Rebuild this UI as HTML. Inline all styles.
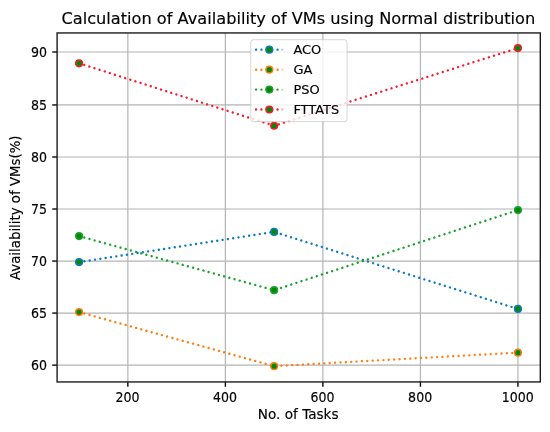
<!DOCTYPE html>
<html lang="en">
<head>
<meta charset="utf-8">
<title>Calculation of Availability of VMs using Normal distribution</title>
<style>
html,body{margin:0;padding:0;background:#fff;}
body{width:550px;height:432px;overflow:hidden;}
svg{display:block;}
svg text{font-family:"DejaVu Sans","Liberation Sans",sans-serif;fill:#000;stroke:#000;stroke-width:0.15px;}
</style>
</head>
<body>
<svg width="550" height="432" viewBox="0 0 550 432">
<rect x="0" y="0" width="550" height="432" fill="#ffffff"/>
<g stroke="#b4b4b4" stroke-width="1.2" fill="none">
<line x1="127.85" y1="32.95" x2="127.85" y2="381.95"/>
<line x1="225.38" y1="32.95" x2="225.38" y2="381.95"/>
<line x1="322.90" y1="32.95" x2="322.90" y2="381.95"/>
<line x1="420.43" y1="32.95" x2="420.43" y2="381.95"/>
<line x1="517.95" y1="32.95" x2="517.95" y2="381.95"/>
<line x1="57.1" y1="365.13" x2="540.3" y2="365.13"/>
<line x1="57.1" y1="313.09" x2="540.3" y2="313.09"/>
<line x1="57.1" y1="261.06" x2="540.3" y2="261.06"/>
<line x1="57.1" y1="209.02" x2="540.3" y2="209.02"/>
<line x1="57.1" y1="156.99" x2="540.3" y2="156.99"/>
<line x1="57.1" y1="104.95" x2="540.3" y2="104.95"/>
<line x1="57.1" y1="52.00" x2="540.3" y2="52.00"/>
</g>
<g stroke="#000" stroke-width="1.35" fill="none">
<line x1="127.85" y1="381.95" x2="127.85" y2="386.75"/>
<line x1="225.38" y1="381.95" x2="225.38" y2="386.75"/>
<line x1="322.90" y1="381.95" x2="322.90" y2="386.75"/>
<line x1="420.43" y1="381.95" x2="420.43" y2="386.75"/>
<line x1="517.95" y1="381.95" x2="517.95" y2="386.75"/>
<line x1="52.2" y1="365.13" x2="57.1" y2="365.13"/>
<line x1="52.2" y1="313.09" x2="57.1" y2="313.09"/>
<line x1="52.2" y1="261.06" x2="57.1" y2="261.06"/>
<line x1="52.2" y1="209.02" x2="57.1" y2="209.02"/>
<line x1="52.2" y1="156.99" x2="57.1" y2="156.99"/>
<line x1="52.2" y1="104.95" x2="57.1" y2="104.95"/>
<line x1="52.2" y1="52.00" x2="57.1" y2="52.00"/>
</g>
<clipPath id="ax"><rect x="57.1" y="32.95" width="483.19999999999993" height="349.0"/></clipPath>
<g clip-path="url(#ax)">
<polyline points="79.09,262.10 274.14,231.92 517.95,308.93" fill="none" stroke="#0c7cc0" stroke-width="2.4" stroke-dasharray="0.001 5.376" stroke-linecap="round"/>
<circle cx="79.09" cy="262.10" r="3.35" fill="#068806" stroke="#0c7cc0" stroke-width="1.5"/>
<circle cx="274.14" cy="231.92" r="3.35" fill="#068806" stroke="#0c7cc0" stroke-width="1.5"/>
<circle cx="517.95" cy="308.93" r="3.35" fill="#068806" stroke="#0c7cc0" stroke-width="1.5"/>
<polyline points="79.09,312.05 274.14,366.17 517.95,352.64" fill="none" stroke="#ff7f0e" stroke-width="2.4" stroke-dasharray="0.001 5.376" stroke-linecap="round"/>
<circle cx="79.09" cy="312.05" r="3.35" fill="#068806" stroke="#ff7f0e" stroke-width="1.5"/>
<circle cx="274.14" cy="366.17" r="3.35" fill="#068806" stroke="#ff7f0e" stroke-width="1.5"/>
<circle cx="517.95" cy="352.64" r="3.35" fill="#068806" stroke="#ff7f0e" stroke-width="1.5"/>
<polyline points="79.09,236.08 274.14,290.20 517.95,210.06" fill="none" stroke="#1aa32c" stroke-width="2.4" stroke-dasharray="0.001 5.376" stroke-linecap="round"/>
<circle cx="79.09" cy="236.08" r="3.35" fill="#068806" stroke="#1aa32c" stroke-width="1.5"/>
<circle cx="274.14" cy="290.20" r="3.35" fill="#068806" stroke="#1aa32c" stroke-width="1.5"/>
<circle cx="517.95" cy="210.06" r="3.35" fill="#068806" stroke="#1aa32c" stroke-width="1.5"/>
<polyline points="79.09,63.28 274.14,125.76 517.95,48.03" fill="none" stroke="#fb1a2c" stroke-width="2.4" stroke-dasharray="0.001 5.376" stroke-linecap="round"/>
<circle cx="79.09" cy="63.28" r="3.35" fill="#068806" stroke="#fb1a2c" stroke-width="1.5"/>
<circle cx="274.14" cy="125.76" r="3.35" fill="#068806" stroke="#fb1a2c" stroke-width="1.5"/>
<circle cx="517.95" cy="48.03" r="3.35" fill="#068806" stroke="#fb1a2c" stroke-width="1.5"/>
</g>
<rect x="57.1" y="32.95" width="483.19999999999993" height="349.0" fill="none" stroke="#1c1c1c" stroke-width="1.4"/>
<g font-size="12.6">
<text transform="translate(127.55 401.65) scale(1 1.065)" text-anchor="middle">200</text>
<text transform="translate(225.08 401.65) scale(1 1.065)" text-anchor="middle">400</text>
<text transform="translate(322.60 401.65) scale(1 1.065)" text-anchor="middle">600</text>
<text transform="translate(420.13 401.65) scale(1 1.065)" text-anchor="middle">800</text>
<text transform="translate(517.65 401.65) scale(1 1.065)" text-anchor="middle">1000</text>
<text transform="translate(46.90 369.93) scale(1 1.065)" text-anchor="end">60</text>
<text transform="translate(46.90 317.89) scale(1 1.065)" text-anchor="end">65</text>
<text transform="translate(46.90 265.86) scale(1 1.065)" text-anchor="end">70</text>
<text transform="translate(46.90 213.82) scale(1 1.065)" text-anchor="end">75</text>
<text transform="translate(46.90 161.79) scale(1 1.065)" text-anchor="end">80</text>
<text transform="translate(46.90 109.75) scale(1 1.065)" text-anchor="end">85</text>
<text transform="translate(46.90 56.80) scale(1 1.065)" text-anchor="end">90</text>
<text x="298.2" y="419.3" text-anchor="middle" font-size="13.6">No. of Tasks</text>
<text transform="translate(20.4 207.75) rotate(-90)" text-anchor="middle" font-size="13.33">Availability of VMs(%)</text>
</g>
<text x="298.3" y="24.0" text-anchor="middle" font-size="16.2">Calculation of Availability of VMs using Normal distribution</text>
<rect x="250.8" y="39.7" width="96.25" height="81.89999999999999" rx="2.5" ry="2.5" fill="#ffffff" fill-opacity="0.8" stroke="#cccccc" stroke-opacity="0.8" stroke-width="1"/>
<g font-size="12.95">
<line x1="256.05" y1="49.65" x2="280" y2="49.65" stroke="#0c7cc0" stroke-width="2.4" stroke-dasharray="0.001 5.376" stroke-linecap="round"/>
<circle cx="282.2" cy="49.65" r="1.2" fill="#0c7cc0" opacity="0.3"/>
<circle cx="269.3" cy="49.65" r="3.35" fill="#068806" stroke="#0c7cc0" stroke-width="1.5"/>
<text x="293.4" y="54.15">ACO</text>
<line x1="256.05" y1="69.7" x2="280" y2="69.7" stroke="#ff7f0e" stroke-width="2.4" stroke-dasharray="0.001 5.376" stroke-linecap="round"/>
<circle cx="282.2" cy="69.7" r="1.2" fill="#ff7f0e" opacity="0.3"/>
<circle cx="269.3" cy="69.7" r="3.35" fill="#068806" stroke="#ff7f0e" stroke-width="1.5"/>
<text x="293.4" y="74.20">GA</text>
<line x1="256.05" y1="89.6" x2="280" y2="89.6" stroke="#1aa32c" stroke-width="2.4" stroke-dasharray="0.001 5.376" stroke-linecap="round"/>
<circle cx="282.2" cy="89.6" r="1.2" fill="#1aa32c" opacity="0.3"/>
<circle cx="269.3" cy="89.6" r="3.35" fill="#068806" stroke="#1aa32c" stroke-width="1.5"/>
<text x="293.4" y="94.10">PSO</text>
<line x1="256.05" y1="109.5" x2="280" y2="109.5" stroke="#fb1a2c" stroke-width="2.4" stroke-dasharray="0.001 5.376" stroke-linecap="round"/>
<circle cx="282.2" cy="109.5" r="1.2" fill="#fb1a2c" opacity="0.3"/>
<circle cx="269.3" cy="109.5" r="3.35" fill="#068806" stroke="#fb1a2c" stroke-width="1.5"/>
<text x="293.4" y="114.00">FTTATS</text>
</g>
</svg>
</body>
</html>
